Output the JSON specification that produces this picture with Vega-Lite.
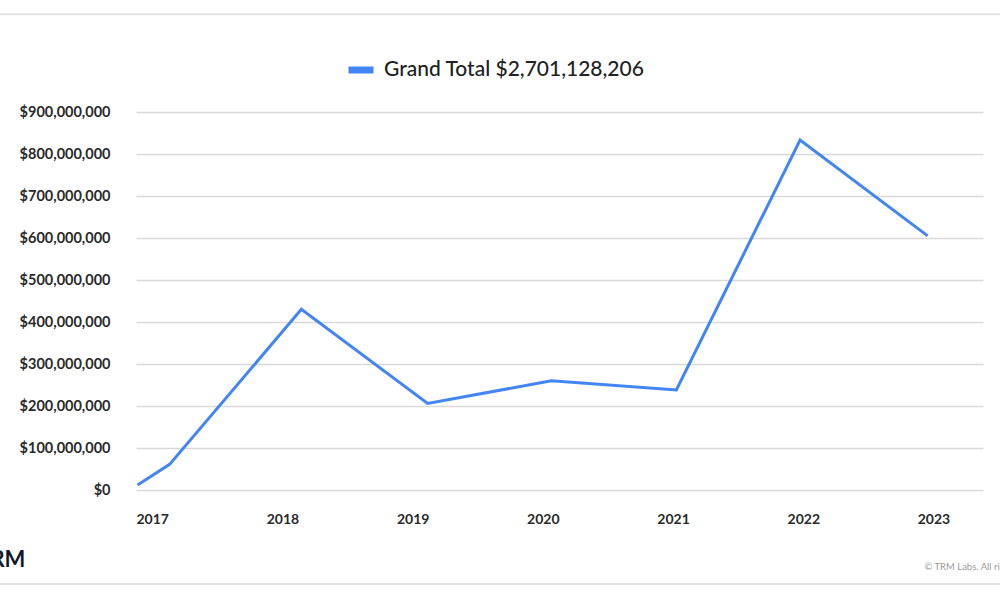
{
  "$schema": "https://vega.github.io/schema/vega-lite/v6.json",
  "autosize": {"type": "none"},
  "width": 847,
  "height": 378,
  "padding": {"left": 136, "top": 112, "right": 17, "bottom": 110},
  "background": "white",
  "config": {
    "font": "Lato",
    "view": {"stroke": null}
  },
  "data": {
    "values": [
      {"year": 2017.012, "value": 12000000, "series": "Grand Total $2,701,128,206"},
      {"year": 2017.258, "value": 61000000, "series": "Grand Total $2,701,128,206"},
      {"year": 2018.27, "value": 430000000, "series": "Grand Total $2,701,128,206"},
      {"year": 2019.24, "value": 206000000, "series": "Grand Total $2,701,128,206"},
      {"year": 2020.19, "value": 260000000, "series": "Grand Total $2,701,128,206"},
      {"year": 2021.15, "value": 238000000, "series": "Grand Total $2,701,128,206"},
      {"year": 2022.10, "value": 833000000, "series": "Grand Total $2,701,128,206"},
      {"year": 2023.08, "value": 605000000, "series": "Grand Total $2,701,128,206"}
    ]
  },
  "layer": [
    {
      "mark": {"type": "line", "strokeWidth": 3, "clip": false},
      "encoding": {
        "x": {
          "field": "year", "type": "quantitative",
          "scale": {"domain": [2017, 2023.505], "nice": false, "zero": false},
          "axis": {
            "title": null, "values": [2017, 2018, 2019, 2020, 2021, 2022, 2023],
            "format": "d", "grid": false, "domain": false, "ticks": false,
            "labelAlign": "left", "labelPadding": 22, "labelFontSize": 14,
            "labelFontWeight": "bold", "labelColor": "#2a2a2a", "labelFlush": false
          }
        },
        "y": {
          "field": "value", "type": "quantitative",
          "scale": {"domain": [0, 900000000], "nice": false},
          "axis": {
            "title": null, "values": [0, 100000000, 200000000, 300000000, 400000000, 500000000, 600000000, 700000000, 800000000, 900000000],
            "format": "$,.0f", "domain": false, "ticks": false,
            "labelPadding": 26, "labelFontSize": 14.5, "labelFontWeight": "bold",
            "labelColor": "#2a2a2a", "gridColor": "#d9d9d9", "gridWidth": 1.5
          }
        },
        "color": {
          "field": "series", "type": "nominal",
          "scale": {"range": ["#4285f4"]},
          "legend": {
            "title": null, "orient": "none", "legendX": 209, "legendY": -58,
            "padding": 0, "symbolType": "stroke", "symbolStrokeWidth": 7,
            "symbolSize": 625, "labelOffset": 7, "labelFontSize": 21,
            "labelColor": "#222222", "labelFontWeight": 500, "labelLimit": 0
          }
        }
      }
    },
    {
      "data": {"values": [{}]},
      "mark": {"type": "rule", "color": "#e2e2e2", "strokeWidth": 2, "clip": false},
      "encoding": {
        "x": {"datum": 2015.95, "type": "quantitative"},
        "x2": {"datum": 2023.65},
        "y": {"datum": 1133000000, "type": "quantitative"}
      }
    },
    {
      "data": {"values": [{}]},
      "mark": {"type": "rule", "color": "#e2e2e2", "strokeWidth": 2, "clip": false},
      "encoding": {
        "x": {"datum": 2015.95, "type": "quantitative"},
        "x2": {"datum": 2023.65},
        "y": {"datum": -224000000, "type": "quantitative"}
      }
    },
    {
      "data": {"values": [{}]},
      "mark": {"type": "text", "text": "TRM", "align": "right", "baseline": "alphabetic", "fontSize": 22, "fontWeight": "bold", "color": "#111a2b", "clip": false},
      "encoding": {
        "x": {"datum": 2016.15, "type": "quantitative"},
        "y": {"datum": -183000000, "type": "quantitative"}
      }
    },
    {
      "data": {"values": [{}]},
      "mark": {"type": "text", "text": "© TRM Labs. All rights reserved.", "align": "left", "baseline": "alphabetic", "fontSize": 9.5, "color": "#9a9a9a", "clip": false},
      "encoding": {
        "x": {"datum": 2023.055, "type": "quantitative"},
        "y": {"datum": -190000000, "type": "quantitative"}
      }
    }
  ]
}
